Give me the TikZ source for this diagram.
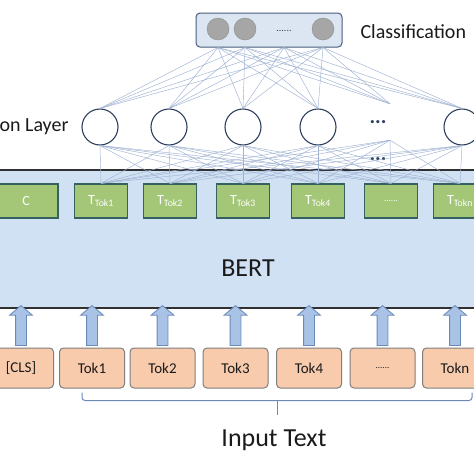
\documentclass[tikz,border=0pt]{standalone}
\usepackage{fontspec}
\setmainfont{Carlito}
\usepackage{tikz}
\usetikzlibrary{arrows.meta,positioning,shapes.arrows,calc}
\definecolor{bertblue}{HTML}{D0E1F3}
\definecolor{boxblue}{HTML}{DCE6F2}
\definecolor{boxdark}{HTML}{485C7C}
\definecolor{outgrey}{HTML}{A6A6A6}
\definecolor{neurondark}{HTML}{2E3F5F}
\definecolor{meshblue}{HTML}{9FB2D2}
\definecolor{embgreen}{HTML}{A3C777}
\definecolor{embdark}{HTML}{36615F}
\definecolor{tokpeach}{HTML}{F8CBAD}
\definecolor{tokgrey}{HTML}{7F7F7F}
\definecolor{arrowblue}{HTML}{A9C3E6}
\definecolor{arrowdark}{HTML}{6A8AB8}
\definecolor{inkgrey}{HTML}{1A1A1A}
\tikzset{
  outbox/.style={draw=boxdark, fill=boxblue, rounded corners=4pt, line width=1pt,
    minimum width=146pt, minimum height=34pt, inner sep=0pt},
  outneuron/.style={circle, draw=outgrey!85!black, fill=outgrey, minimum size=22pt, inner sep=0pt},
  neuron/.style={circle, draw=neurondark, fill=white, line width=1.1pt, minimum size=36pt, inner sep=0pt},
  ghost/.style={minimum size=36pt, inner sep=0pt},
  embbox/.style={draw=embdark, fill=embgreen, line width=1.2pt, minimum width=53pt,
    minimum height=34pt, inner sep=0pt, text=white, font=\fontsize{14}{14}\selectfont},
  tokbox/.style={draw=tokgrey, fill=tokpeach, rounded corners=4pt, line width=1pt,
    minimum width=65pt, minimum height=40pt, inner sep=0pt, text=inkgrey,
    font=\fontsize{15}{15}\selectfont},
  uparrow/.style={single arrow, draw=arrowdark, fill=arrowblue, line width=0.8pt, rotate=90,
    minimum height=40pt, single arrow head extend=6pt, single arrow tip angle=100,
    inner xsep=0pt, inner ysep=5pt, font=\fontsize{1}{1}\selectfont},
  mesh/.style={draw=meshblue, line width=0.45pt},
  bracket/.style={draw=arrowdark, line width=1pt},
  biglabel/.style={text=inkgrey, font=\fontsize{26}{26}\selectfont},
  sidelabel/.style={text=inkgrey, font=\fontsize{20}{20}\selectfont},
  dotlabel/.style={text=neurondark, font=\bfseries\fontsize{21}{21}\selectfont},
}

\begin{document}
\begin{tikzpicture}[x=1pt, y=-1pt]
  \useasboundingbox (0,0) rectangle (474,474);
  \clip (0,0) rectangle (474,474);
  \fill[white] (0,0) rectangle (474,474);

  % BERT block
  \node[fill=bertblue, minimum width=490pt, minimum height=138pt, inner sep=0pt] (bert) at (237,239) {};
  \draw[inkgrey!90, line width=1.5pt] (bert.north west) -- (bert.north east);
  \draw[inkgrey!90, line width=1.5pt] (bert.south west) -- (bert.south east);
  \node[biglabel] (bertlabel) at (248,268) {BERT};

  % output layer
  \node[outbox] (clsbox) at (269,30) {};
  \node[outneuron] (c1) at (218,29) {};
  \node[outneuron] (c2) at (245,29) {};
  \node[ghost, minimum size=22pt] (c3) at (284,29) {};
  \node[outneuron] (c4) at (323,29) {};
  \node[text=neurondark, font=\fontsize{10}{10}\selectfont] (cdots) at (284,31) {......};
  \node[sidelabel, anchor=west] (clslabel) at (357,32) {Classification};

  % hidden layer
  \node[neuron] (h1) at (100,127) {};
  \node[neuron] (h2) at (169,127) {};
  \node[neuron] (h3) at (243,127) {};
  \node[neuron] (h4) at (318,127) {};
  \node[ghost] (h5) at (390,122) {};
  \node[neuron] (h6) at (462,127) {};
  \node[dotlabel] (hdots) at (378,122) {...};
  \node[dotlabel] (ldots) at (378,159) {...};
  \node[sidelabel, anchor=east] (hlabel) at (72,127) {on Layer};

  % token representations
  \node[embbox, minimum width=64pt] (e0) at (26,201) {C};
  \node[embbox] (e1) at (101,201) {T\textsubscript{Tok1}};
  \node[embbox] (e2) at (170,201) {T\textsubscript{Tok2}};
  \node[embbox] (e3) at (243,201) {T\textsubscript{Tok3}};
  \node[embbox] (e4) at (318,201) {T\textsubscript{Tok4}};
  \node[embbox, font=\fontsize{9}{9}\selectfont] (e5) at (391,201) {......};
  \node[embbox] (e6) at (460,201) {T\textsubscript{Tokn}};

  % full connections
  \foreach \c in {c1,c2,c3,c4}
    \foreach \h in {h1,h2,h3,h4,h5,h6}
      \draw[mesh] (\c |- clsbox.south) -- (\h.north);
  \foreach \h in {h1,h2,h3,h4,h5,h6}
    \foreach \e in {e1,e2,e3,e4,e5,e6}
      \draw[mesh] (\h.south) -- (\e.north);

  % input tokens
  \node[tokbox] (k0) at (21,368) {[CLS]};
  \node[tokbox] (k1) at (92,368) {Tok1};
  \node[tokbox] (k2) at (162.5,368) {Tok2};
  \node[tokbox] (k3) at (235.5,368) {Tok3};
  \node[tokbox] (k4) at (309,368) {Tok4};
  \node[tokbox, font=\fontsize{9}{9}\selectfont] (k5) at (382.5,368) {......};
  \node[tokbox] (k6) at (455,368) {Tokn};

  \foreach \k in {k0,k1,k2,k3,k4,k5,k6}
    \path (\k.north) -- (\k.north |- bert.south) node[midway, uparrow] {};

  % input text brace
  \draw[bracket, rounded corners=3pt] ($(k1.south)+(-10,4)$) |- ($(k6.south)+(17,12)$) -- ++(0,-8);
  \coordinate (brmid) at (277,400);
  \draw[bracket] (brmid) -- ++(0,15);
  \node[biglabel] (intext) at (274,440) {Input Text};
\end{tikzpicture}
\end{document}
